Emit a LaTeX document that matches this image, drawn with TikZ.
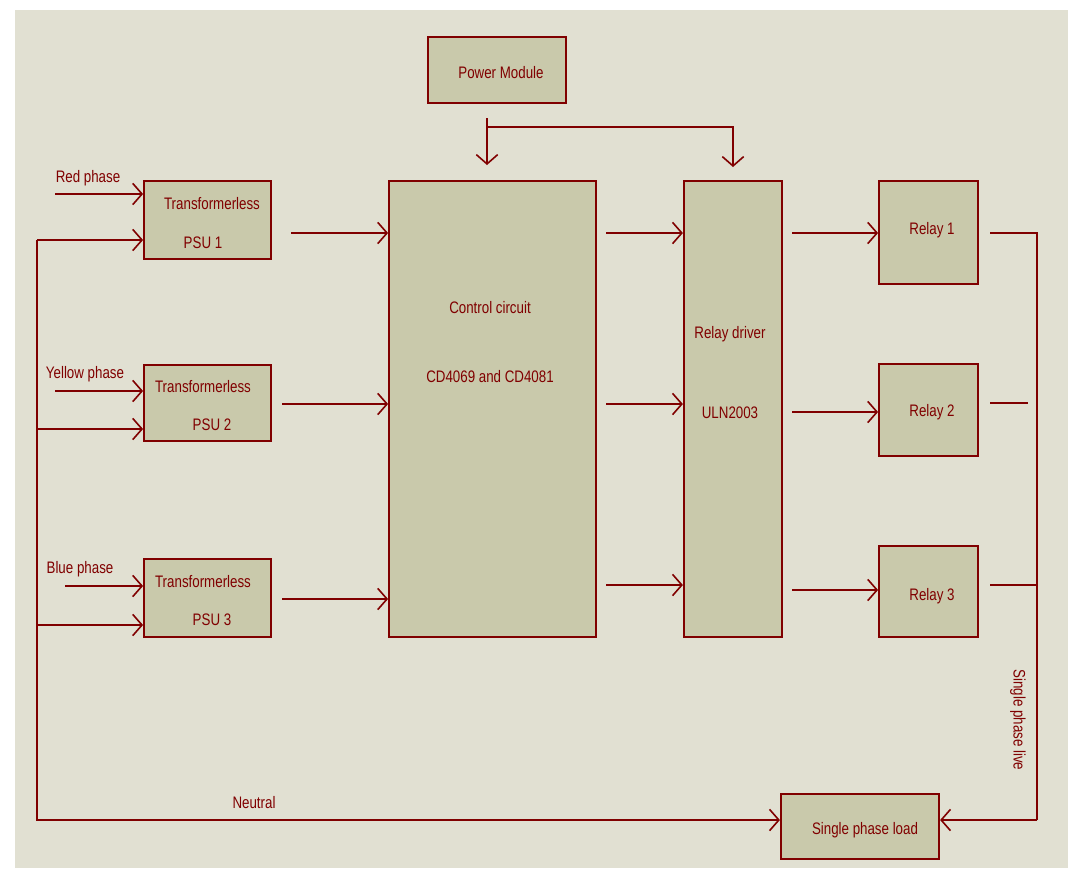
\documentclass[tikz,border=0pt]{standalone}
\usepackage{fontspec}
\setmainfont{Liberation Sans}[FakeStretch=0.8]
\usetikzlibrary{arrows.meta}
\definecolor{wire}{HTML}{800000}
\definecolor{boxfill}{HTML}{C9C9AB}
\definecolor{paper}{HTML}{E1E0D2}
\tikzset{
  blk/.style={draw=wire, fill=boxfill, line width=1.6pt, inner sep=0pt},
  lbl/.style={text=wire, font=\fontsize{12.5}{14}\selectfont},
  wr/.style={draw=wire, line width=1.6pt},
  arr/.style={wr, -{Straight Barb[length=7pt,width=16pt,line width=1.2pt]}},
}
\begin{document}
\begin{tikzpicture}[x=0.75pt,y=-0.75pt]
    \useasboundingbox (0,0) rectangle (1074,869);
    \fill[paper] (15,10) rectangle (1068,868);
    % blocks
    \node[blk, minimum width=103.5pt, minimum height=49.5pt] (power) at (497,70) {};
    \node[blk, minimum width=155pt, minimum height=342pt] (ctrl) at (492.5,409) {};
    \node[blk, minimum width=73.5pt, minimum height=342pt] (drv) at (733,409) {};
    \node[blk, minimum width=95pt, minimum height=58pt] (psuA) at (207.5,220) {};
    \node[blk, minimum width=95pt, minimum height=57pt] (psuB) at (207.5,403) {};
    \node[blk, minimum width=95pt, minimum height=58pt] (psuC) at (207.5,598) {};
    \node[blk, minimum width=74pt, minimum height=77pt] (relA) at (928.5,232.5) {};
    \node[blk, minimum width=74pt, minimum height=69pt] (relB) at (928.5,410) {};
    \node[blk, minimum width=74pt, minimum height=68pt] (relC) at (928.5,591.5) {};
    \node[blk, minimum width=118.5pt, minimum height=49pt] (load) at (860,826.5) {};
    % texts
    \node[lbl] at (501,73) {Power Module};
    \node[lbl] at (490,308) {Control circuit};
    \node[lbl] at (490,377) {CD4069 and CD4081};
    \node[lbl] at (730,334) {Relay driver};
    \node[lbl] at (730,413) {ULN2003};
    \node[lbl] at (212,204) {Transformerless};
    \node[lbl] at (203,243) {PSU 1};
    \node[lbl] at (203,387) {Transformerless};
    \node[lbl] at (212,425) {PSU 2};
    \node[lbl] at (203,582) {Transformerless};
    \node[lbl] at (212,620) {PSU 3};
    \node[lbl] at (932,230) {Relay 1};
    \node[lbl] at (932,412) {Relay 2};
    \node[lbl] at (932,596) {Relay 3};
    \node[lbl] at (865,830) {Single phase load};
    \node[lbl] at (88,178) {Red phase};
    \node[lbl] at (85,374) {Yellow phase};
    \node[lbl] at (80,569) {Blue phase};
    \node[lbl] at (254,803) {Neutral};
    \node[lbl, rotate=-90] at (1018,720) {Single phase live};
    % power feed
    \draw[arr] (487,118) -- (487,165);
    \draw[arr] (487,127) -- (733,127) -- (733,167);
    % phase inputs
    \draw[arr] (55,194) -- (psuA.west |- 0,194);
    \draw[arr] (55,391) -- (psuB.west |- 0,391);
    \draw[arr] (65,586) -- (psuC.west |- 0,586);
    \coordinate (nTop) at (37,240);
    \coordinate (nBot) at (37,820);
    \draw[arr] (nTop) -- (psuA.west |- nTop);
    \draw[arr] (37,429) -- (psuB.west |- 0,429);
    \draw[arr] (37,625) -- (psuC.west |- 0,625);
    \draw[arr] (nTop) -- (nBot) -- (load.west |- nBot);
    % PSU to control
    \draw[arr] (291,233) -- (ctrl.west |- 0,233);
    \draw[arr] (282,404) -- (ctrl.west |- 0,404);
    \draw[arr] (282,599) -- (ctrl.west |- 0,599);
    % control to driver
    \draw[arr] (606,233) -- (drv.west |- 0,233);
    \draw[arr] (606,404) -- (drv.west |- 0,404);
    \draw[arr] (606,585) -- (drv.west |- 0,585);
    % driver to relays
    \draw[arr] (792,233) -- (relA.west |- 0,233);
    \draw[arr] (792,412) -- (relB.west |- 0,412);
    \draw[arr] (792,590) -- (relC.west |- 0,590);
    % relay outputs to load
    \draw[wr] (990,233) -- (1037,233) -- (1037,820);
    \draw[arr] (1037,820) -- (load.east |- 0,820);
    \draw[wr] (990,403) -- (1028,403);
    \draw[wr] (990,585) -- (1037,585);
\end{tikzpicture}
\end{document}
